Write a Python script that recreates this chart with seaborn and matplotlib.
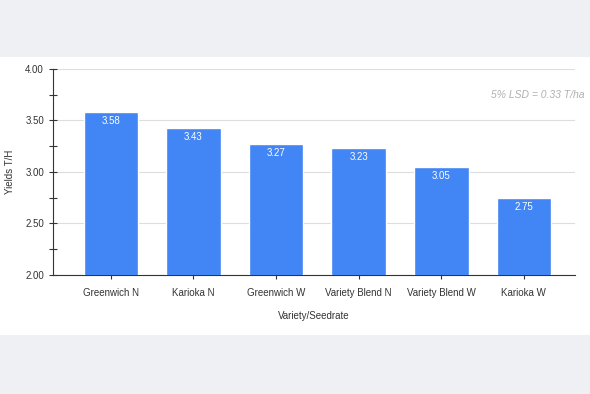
import matplotlib
matplotlib.use("Agg")
import matplotlib.pyplot as plt
import matplotlib.patches as mpatches
from matplotlib.ticker import MultipleLocator
import seaborn as sns
import pandas as pd

varieties = ["Greenwich N", "Karioka N", "Greenwich W", "Variety Blend N", "Variety Blend W", "Karioka W"]
yields = [3.58, 3.43, 3.27, 3.23, 3.05, 2.75]
lsd_note = "5% LSD = 0.33 T/ha"

df = pd.DataFrame({"variety": varieties, "yield": yields})

sns.set_style("white")
plt.rcParams["font.family"] = ["Liberation Sans", "DejaVu Sans"]

fig = plt.figure(figsize=(5.9, 3.94), dpi=100)
fig.patch.set_facecolor("#eef0f3")
# white panel behind the chart
fig.patches.append(mpatches.Rectangle((0, 0.15), 1, 0.705, transform=fig.transFigure,
                                      facecolor="white", edgecolor="none", zorder=-1))

ax = fig.add_axes([0.0898, 0.302, 0.885, 0.523])
ax.set_zorder(2)
ax.set_facecolor("white")
sns.barplot(data=df, x="variety", y="yield", color="#4285f4", saturation=1, width=0.66, ax=ax, zorder=3)

for i, v in enumerate(yields):
    ax.text(i, v - 0.04, f"{v:.2f}", ha="center", va="top", color="white", fontsize=7, zorder=4)

ax.set_ylim(2.0, 4.0)
ax.set_xlim(-0.7, 5.62)
ax.yaxis.set_minor_locator(MultipleLocator(0.25))
ax.set_yticks([2.0, 2.5, 3.0, 3.5, 4.0])
ax.set_yticklabels(["2.00", "2.50", "3.00", "3.50", "4.00"])
ax.grid(axis="y", color="#dddddd", linewidth=0.8, zorder=0)
ax.tick_params(axis="y", which="both", direction="inout", length=6, width=0.8, labelsize=7,
               color="#333333", labelcolor="#333333", left=True)
ax.tick_params(axis="x", direction="inout", length=6, width=0.8, labelsize=7,
               color="#333333", labelcolor="#333333", bottom=True, pad=6)
for s in ["top", "right"]:
    ax.spines[s].set_visible(False)
ax.spines["left"].set_color("#333333")
ax.spines["bottom"].set_color("#333333")
ax.set_xlabel("Variety/Seedrate", fontsize=7, labelpad=10, color="#333333")
ax.set_ylabel("Yields T/H", fontsize=7, labelpad=7, color="#333333")

fig.text(0.99, 0.758, lsd_note, ha="right", va="center", fontsize=7.5, style="italic", color="#b0b0b0")

fig.savefig("out.png", dpi=100, facecolor=fig.get_facecolor())
